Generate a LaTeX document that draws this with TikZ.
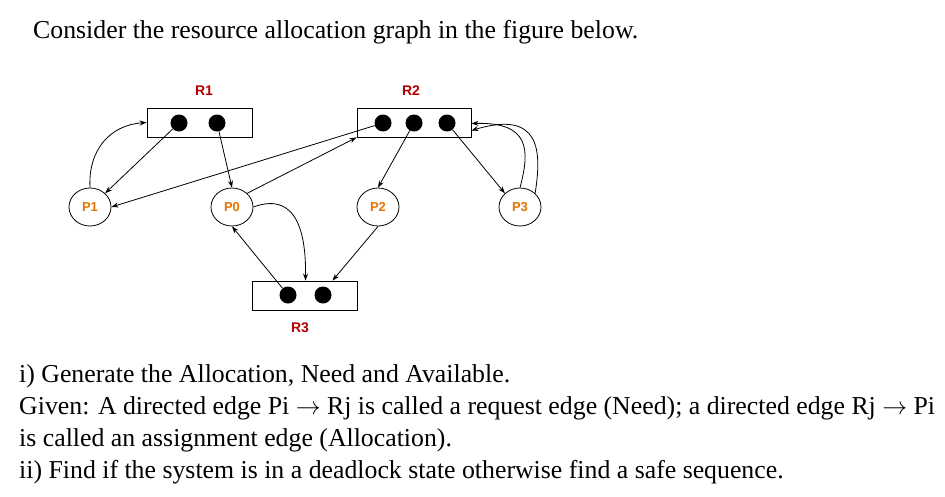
\documentclass[tikz,border=0pt]{standalone}
\usepackage{fontspec}
\setmainfont{Liberation Serif}
\newfontfamily\lsans{Liberation Sans}
\usetikzlibrary{arrows.meta,shapes.geometric}
\begin{document}
\begin{tikzpicture}[x=1pt,y=-1pt,
  res/.style={draw,thick,minimum width=105pt,minimum height=29pt,inner sep=0pt},
  dot/.style={circle,fill=black,minimum size=17pt,inner sep=0pt},
  proc/.style={draw,thick,ellipse,minimum width=42pt,minimum height=38pt,inner sep=0pt,font=\lsans\bfseries\fontsize{13}{13}\selectfont,text=orange!90!black},
  rl/.style={font=\lsans\bfseries\fontsize{14}{14}\selectfont,text=red!70!black},
  e/.style={-{Stealth[length=7pt,width=5pt]},thick},
  txt/.style={anchor=west,inner sep=0pt,font=\fontsize{25.8}{25.8}\selectfont}]
\useasboundingbox (0,0) rectangle (945,496);
\node[txt] (t0) at (33,32) {Consider the resource allocation graph in the figure below.};
\node[res] (R1) at (199.5,122.5) {};
\node[res,minimum width=114pt] (R2) at (414,122.5) {};
\node[res] (R3) at (304.5,295.5) {};
\node[dot] (a1) at (179,123) {};
\node[dot] (a2) at (217,123) {};
\node[dot] (b1) at (383,123) {};
\node[dot] (b2) at (414,123) {};
\node[dot] (b3) at (447,123) {};
\node[dot] (c1) at (288,295) {};
\node[dot] (c2) at (323,295) {};
\node[rl] (l1) at (204,91) {R1};
\node[rl] (l2) at (411,91) {R2};
\node[rl] (l3) at (300,328) {R3};
\node[proc] (P1) at (90,207) {P1};
\node[proc] (P0) at (232,207) {P0};
\node[proc] (P2) at (378,207) {P2};
\node[proc] (P3) at (520,207) {P3};
\draw[e] (P1.north) .. controls (88,150) and (110,125) .. (R1.west);
\draw[e] (a1) -- (P1.north east);
\draw[e] (a2) -- (P0.north);
\draw[e] (b1) -- (P1.east);
\draw[e] (P0.north east) -- (R2.south west);
\draw[e] (b2) -- (P2.north);
\draw[e] (b3) -- (P3.north west);
\draw[e] (P3.north) .. controls (530,150) and (530,122) .. ([yshift=-1pt]R2.east);
\draw[e] (P3.north east) .. controls (542,150) and (540,110) .. ([yshift=-8pt]R2.east);
\draw[e] (P0.east) .. controls (300,190) and (306,240) .. ([xshift=1pt]R3.north);
\draw[e] (c1) -- (P0.south);
\draw[e] (P2.south) -- ([xshift=28pt]R3.north);
\node[txt] (t1) at (19,376) {i) Generate the Allocation, Need and Available.};
\node[txt] (t2) at (19,408) {Given: A directed edge Pi $\rightarrow$ Rj is called a request edge (Need); a directed edge Rj $\rightarrow$ Pi};
\node[txt] (t3) at (19,440) {is called an assignment edge (Allocation).};
\node[txt] (t4) at (19,472) {ii) Find if the system is in a deadlock state otherwise find a safe sequence.};
\end{tikzpicture}
\end{document}
